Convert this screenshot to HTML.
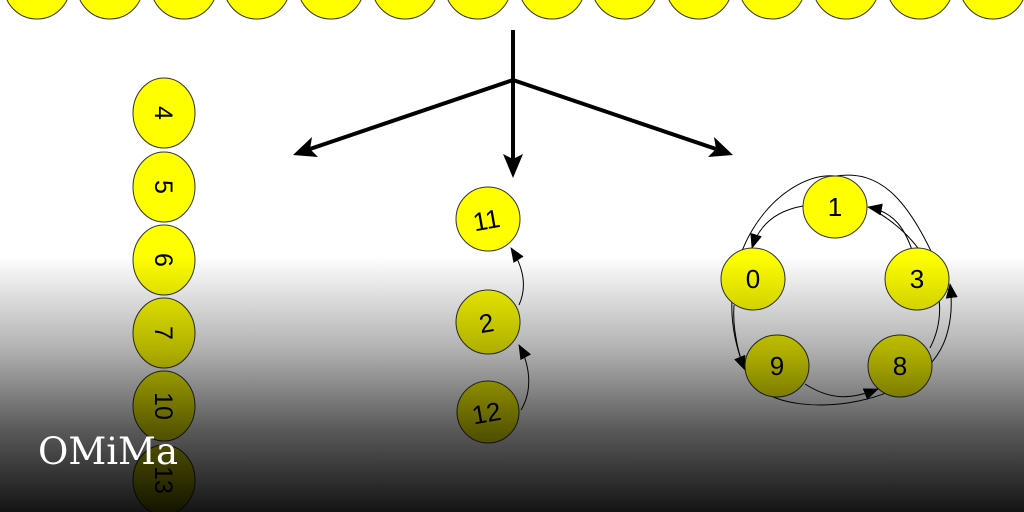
<!DOCTYPE html>
<html><head><meta charset="utf-8"><style>
html,body{margin:0;padding:0;width:1024px;height:512px;overflow:hidden;background:#fff}
svg{position:absolute;left:0;top:0}
.ov{position:absolute;left:0;top:0;width:1024px;height:512px;background:linear-gradient(to bottom,rgba(0,0,0,0) 0%,rgba(0,0,0,0) 50%,rgba(0,0,0,0.3) 68%,rgba(0,0,0,0.65) 84%,rgba(0,0,0,0.92) 100%)}
.t{position:absolute;left:38px;top:430px;color:#fff;font-family:"DejaVu Serif","Liberation Serif",serif;font-size:37px}
</style></head><body>
<svg width="1024" height="512" viewBox="0 0 1024 512" font-family="Liberation Sans, sans-serif">
<defs><marker id="a" markerWidth="16" markerHeight="14" refX="14" refY="6" orient="auto" markerUnits="userSpaceOnUse"><path d="M0,0 L15,6 L0,12 z" fill="#000"/></marker></defs>
<g fill="#ffff00" stroke="#333" stroke-width="1">
<circle cx="37" cy="-14" r="33"/><circle cx="110" cy="-14" r="33"/><circle cx="184" cy="-14" r="33"/><circle cx="257" cy="-14" r="33"/><circle cx="331" cy="-14" r="33"/><circle cx="405" cy="-14" r="33"/><circle cx="478" cy="-14" r="33"/><circle cx="552" cy="-14" r="33"/><circle cx="625" cy="-14" r="33"/><circle cx="699" cy="-14" r="33"/><circle cx="772" cy="-14" r="33"/><circle cx="846" cy="-14" r="33"/><circle cx="920" cy="-14" r="33"/><circle cx="993" cy="-14" r="33"/>
</g>
<g stroke="#000" stroke-width="4" fill="none">
<line x1="513" y1="30" x2="513" y2="160"/>
<line x1="513" y1="80" x2="310" y2="149"/>
<line x1="513" y1="80" x2="716" y2="149"/>
</g>
<g fill="#000">
<polygon points="513,178 503,154 513,159 523,154"/>
<polygon points="293,155 312,137 310,149 318,157"/>
<polygon points="733,155 714,137 716,149 708,157"/>
</g>
<g fill="#ffff00" stroke="#333">
<ellipse cx="164" cy="113" rx="31" ry="35"/><ellipse cx="164" cy="187" rx="31" ry="35"/><ellipse cx="164" cy="260" rx="31" ry="35"/><ellipse cx="164" cy="333" rx="31" ry="35"/><ellipse cx="164" cy="406" rx="31" ry="35"/><ellipse cx="164" cy="480" rx="31" ry="35"/>
</g>
<g font-size="25" text-anchor="middle" fill="#000">
<text transform="translate(155,113) rotate(90)">4</text>
<text transform="translate(155,187) rotate(90)">5</text>
<text transform="translate(155,260) rotate(90)">6</text>
<text transform="translate(155,333) rotate(90)">7</text>
<text transform="translate(155,406) rotate(90)">10</text>
<text transform="translate(155,480) rotate(90)">13</text>
</g>
<g fill="#ffff00" stroke="#333">
<circle cx="488" cy="219" r="32"/><circle cx="488" cy="322" r="32"/><circle cx="488" cy="412" r="31"/>
</g>
<g font-size="26" text-anchor="middle" fill="#000">
<text transform="translate(488,229) rotate(-10)">11</text>
<text transform="translate(488,332) rotate(-10)">2</text>
<text transform="translate(488,422) rotate(-10)">12</text>
</g>
<g stroke="#000" stroke-width="1" fill="none">
<path d="M521,410 C533,390 530,365 519,345" marker-end="url(#a)"/>
<path d="M519,305 C528,285 522,265 511,248" marker-end="url(#a)"/>
<path d="M803,206 C780,210 760,222 752,248" marker-end="url(#a)"/>
<path d="M836,176 C780,170 700,260 745,370" marker-end="url(#a)"/>
<path d="M734,305 C732,330 740,360 745,368"/>
<path d="M912,250 C905,230 895,212 868,207" marker-end="url(#a)"/>
<path d="M930,348 C955,300 930,240 870,208"/>
<path d="M805,384 C830,400 850,400 878,389" marker-end="url(#a)"/>
<path d="M760,388 C790,420 930,410 948,330 C952,315 952,300 950,284" marker-end="url(#a)"/>
<path d="M836,176 C880,170 910,195 948,290"/>
</g>
<g fill="#ffff00" stroke="#333">
<ellipse cx="835" cy="207" rx="32" ry="31"/><ellipse cx="753" cy="279" rx="32" ry="31"/><ellipse cx="917" cy="279" rx="32" ry="31"/><ellipse cx="777" cy="366" rx="32" ry="31"/><ellipse cx="900" cy="366" rx="32" ry="31"/>
</g>
<g font-size="26" text-anchor="middle" fill="#000">
<text x="835" y="216">1</text><text x="753" y="288">0</text><text x="917" y="288">3</text><text x="777" y="375">9</text><text x="900" y="375">8</text>
</g>
</svg>
<div class="ov"></div>
<div class="t">OMiMa</div>
</body></html>
